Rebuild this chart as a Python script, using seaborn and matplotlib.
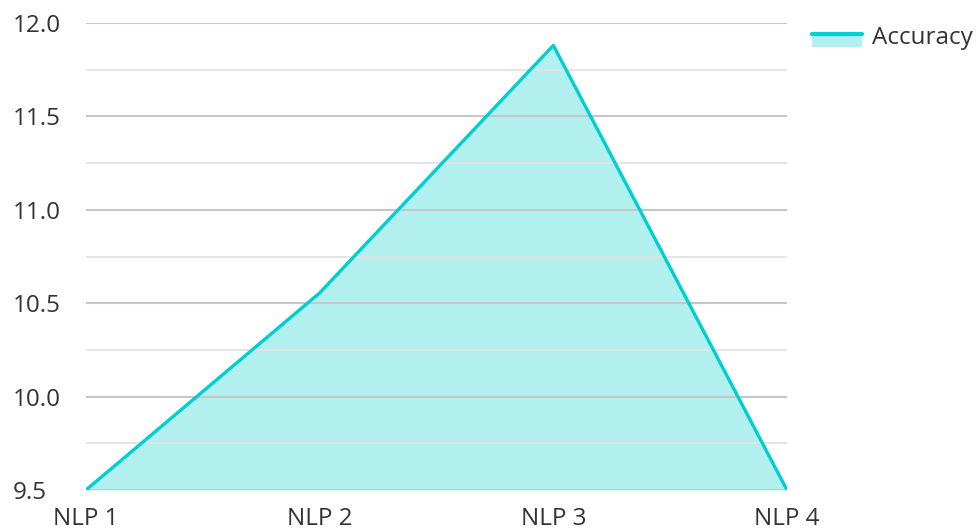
import seaborn as sns
import pandas as pd
import matplotlib.pyplot as plt
from matplotlib.patches import Rectangle
from matplotlib.lines import Line2D
from matplotlib.legend_handler import HandlerBase

categories = ["NLP 1", "NLP 2", "NLP 3", "NLP 4"]
accuracy = [9.5, 10.555, 11.88, 9.5]
y_ticks = [9.5, 10.0, 10.5, 11.0, 11.5, 12.0]

sns.set_style("white")
plt.rcParams['font.family'] = ['Open Sans', 'DejaVu Sans']

df = pd.DataFrame({"pos": range(len(categories)), "Accuracy": accuracy})

fig = plt.figure(figsize=(9.77, 5.31), dpi=100)
ax = fig.add_axes([86 / 977, 1 - 490 / 531, (787 - 86) / 977, (490 - 23) / 531])

line_color = "#00cfd0"

ax.fill_between(df["pos"], 9.5, df["Accuracy"], color=line_color, alpha=0.3, linewidth=0, zorder=1)
sns.lineplot(data=df, x="pos", y="Accuracy", color=line_color, linewidth=2.4, ax=ax, zorder=3)

# grid on top of the fill
for v in [9.75, 10.25, 10.75, 11.25, 11.75]:
    ax.axhline(v, color="#e3e3e3", linewidth=1.3, zorder=2)
for v in y_ticks:
    ax.axhline(v, color="#c6c6c6", linewidth=1.5, zorder=2)

ax.set_xlim(0, 3)
ax.set_ylim(9.5, 12.0)
ax.set_xticks(range(len(categories)))
ax.set_xticklabels(categories)
ax.set_yticks(y_ticks)
ax.set_yticklabels([f"{v:.1f}" for v in y_ticks])
ax.tick_params(axis="both", length=0, labelsize=17.5, colors="#333333")
ax.tick_params(axis="x", pad=12)
ax.tick_params(axis="y", pad=53)
for lab in ax.get_yticklabels():
    lab.set_horizontalalignment("left")
ax.set_xlabel("")
ax.set_ylabel("")
for s in ax.spines.values():
    s.set_visible(False)


class AreaHandler(HandlerBase):
    def create_artists(self, legend, orig_handle, xdescent, ydescent, width, height, fontsize, trans):
        rect = Rectangle((-xdescent, -ydescent - 3), width, height * 0.85, facecolor=line_color,
                         alpha=0.3, linewidth=0, transform=trans)
        ln = Line2D([-xdescent, -xdescent + width], [-ydescent - 3 + height * 0.88] * 2,
                    color=line_color, linewidth=3, transform=trans)
        return [rect, ln]


fig.legend(["area"], ["Accuracy"], handler_map={str: AreaHandler()},
           loc="upper left", bbox_to_anchor=(790 / 977, 1 - 4 / 531), frameon=False,
           fontsize=17.5, handlelength=2.05, handleheight=0.62, handletextpad=0.41, labelcolor="#333333")

plt.savefig("out.png", dpi=100)
plt.close()
